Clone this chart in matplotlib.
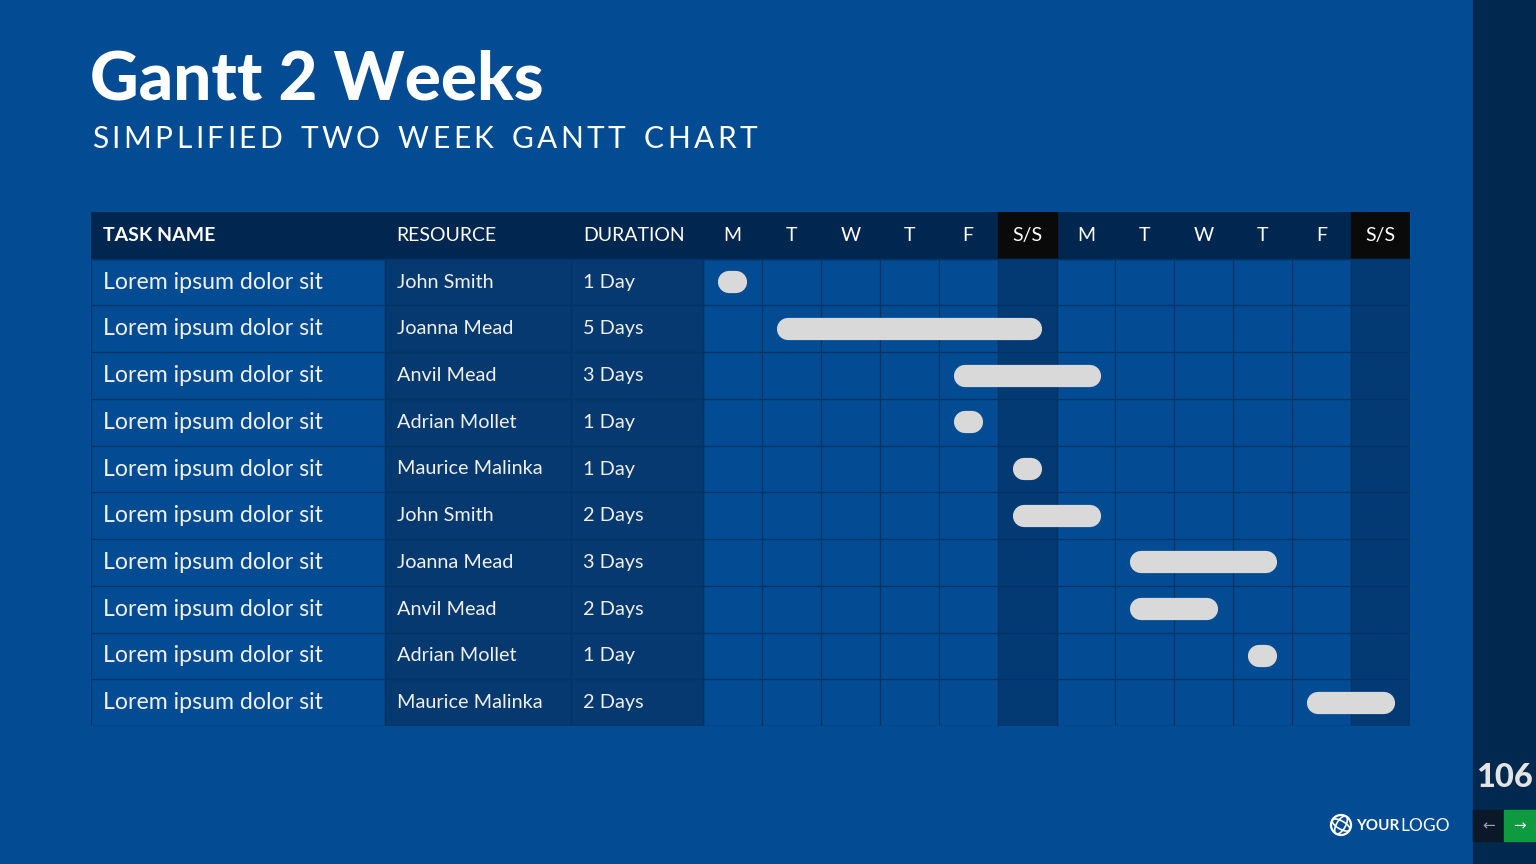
import matplotlib.pyplot as plt
from matplotlib.patches import Rectangle, Circle, Ellipse

# Table content
tasks = ["Lorem ipsum dolor sit"] * 10
resources = ["John Smith", "Joanna Mead", "Anvil Mead", "Adrian Mollet", "Maurice Malinka",
             "John Smith", "Joanna Mead", "Anvil Mead", "Adrian Mollet", "Maurice Malinka"]
durations = ["1 Day", "5 Days", "3 Days", "1 Day", "1 Day",
             "2 Days", "3 Days", "2 Days", "1 Day", "2 Days"]
day_labels = ["M", "T", "W", "T", "F", "S/S", "M", "T", "W", "T", "F", "S/S"]
weekend_days = [5, 11]
# first and last day index (inclusive) of each task
start_day = [0, 1, 4, 4, 5, 5, 7, 7, 9, 10]
end_day = [0, 5, 6, 4, 5, 6, 9, 8, 9, 11]

title = "Gantt 2 Weeks"
subtitle = "SIMPLIFIED TWO WEEK GANTT CHART"

# Colours
BG = '#034C93'
STRIP = '#01284F'
HEADER = '#012650'
WEEKEND_HEAD = '#0A0A0A'
RES_COL = '#05396F'
WEEKEND_COL = '#033A73'
GRID = '#023566'
BAR = '#D9D9D9'

plt.rcParams['font.family'] = ['Lato', 'DejaVu Sans']

fig = plt.figure(figsize=(15.36, 8.64), dpi=100)
fig.patch.set_facecolor(BG)
renderer = fig.canvas.get_renderer()

# Decoration layer in pixel units
deco = fig.add_axes([0, 0, 1, 1])
deco.set_xlim(0, 1536)
deco.set_ylim(864, 0)
deco.axis('off')


def spaced_text(x0, x1, y, s, **kw):
    # letter-spaced line: characters spread evenly so the line runs from x0 to x1
    widths = []
    arts = []
    for ch in s:
        t = deco.text(0, y, ch if ch != ' ' else 'i', **kw)
        w = t.get_window_extent(renderer).width
        if ch == ' ':
            t.set_text(' ')
            w *= 1.6
        widths.append(w)
        arts.append(t)
    gap = ((x1 - x0) - sum(widths)) / (len(s) - 1)
    x = x0
    for t, w in zip(arts, widths):
        t.set_x(x)
        x += w + gap


deco.add_patch(Rectangle((1473, 0), 63, 864, color=STRIP))
deco.add_patch(Rectangle((1473, 810), 31, 31, color='#0B1828'))
deco.add_patch(Rectangle((1504, 810), 32, 31, color='#0E9A3E'))
deco.text(1488.5, 826, '\u2190', color='#9AA3AD', fontsize=11, ha='center', va='center',
          family='DejaVu Sans')
deco.text(1520, 826, '\u2192', color='white', fontsize=11, ha='center', va='center',
          family='DejaVu Sans')
deco.text(1504.5, 787, '106', color='#E4E4E4', fontsize=23.5, fontweight='black',
          ha='center', va='baseline')

deco.text(90, 100, title, color='white', fontsize=48.5, fontweight='black', va='baseline')
spaced_text(92, 757, 148, subtitle, color='white', fontsize=21.5, va='baseline')

# logo
deco.add_patch(Circle((1341, 825), 10, fill=False, ec='white', lw=1.6))
deco.add_patch(Ellipse((1341, 825), 9, 20, fill=False, ec='white', lw=1.2, angle=30))
deco.add_patch(Ellipse((1341, 825), 20, 8, fill=False, ec='white', lw=1.2, angle=30))
deco.text(1356, 826, 'YOUR', color='white', fontsize=11, fontweight='bold', va='center')
deco.text(1400, 826, 'LOGO', color='white', fontsize=12.5, va='center')

# Table axes: one unit = one day column / one row
x_task, x_res, x_dur = -10.39, -5.40, -2.24
n_days = len(day_labels)
n_rows = len(tasks)
ax = fig.add_axes([91 / 1536, (864 - 726) / 864, 1319 / 1536, 514 / 864])
ax.set_xlim(x_task, n_days)
ax.set_ylim(n_rows, -1)
ax.axis('off')

# cell backgrounds
ax.add_patch(Rectangle((x_task, -1), n_days - x_task, 1, color=HEADER, zorder=0))
ax.add_patch(Rectangle((x_res, 0), -x_res, n_rows, color=RES_COL, zorder=0))
for d in weekend_days:
    ax.add_patch(Rectangle((d, -1), 1, 1, color=WEEKEND_HEAD, zorder=0))
    ax.add_patch(Rectangle((d, 0), 1, n_rows, color=WEEKEND_COL, zorder=0))

# grid lines
for r in range(n_rows + 1):
    ax.plot([x_task, n_days], [r, r], color=GRID, lw=1, zorder=1)
for x in [x_task, x_res, x_dur] + list(range(n_days + 1)):
    ax.plot([x, x], [0, n_rows], color=GRID, lw=1, zorder=1)

# header text
hdr = dict(color='white', fontsize=14, va='center', zorder=3)
ax.text(x_task + 0.2, -0.5, 'TASK NAME', fontweight='bold', **hdr)
ax.text(x_res + 0.2, -0.5, 'RESOURCE', **hdr)
ax.text(x_dur + 0.2, -0.5, 'DURATION', **hdr)
for i, lab in enumerate(day_labels):
    ax.text(i + 0.5, -0.5, lab, ha='center', **hdr)

# body text
for r in range(n_rows):
    y = r + 0.5
    ax.text(x_task + 0.2, y, tasks[r], color='#F0F0F0', fontsize=16.7, va='center', zorder=3)
    ax.text(x_res + 0.2, y, resources[r], color='#F0F0F0', fontsize=14.3, va='center', zorder=3)
    ax.text(x_dur + 0.2, y, durations[r], color='#F0F0F0', fontsize=14.3, va='center', zorder=3)

# gantt bars as rounded capsules
for r in range(n_rows):
    x0 = start_day[r] + 0.5 - 0.06
    x1 = end_day[r] + 0.5 + 0.06
    ax.plot([x0, x1], [r + 0.5, r + 0.5], color=BAR, lw=16,
            solid_capstyle='round', zorder=4)

fig.savefig('out.png', dpi=100, facecolor=fig.get_facecolor())
